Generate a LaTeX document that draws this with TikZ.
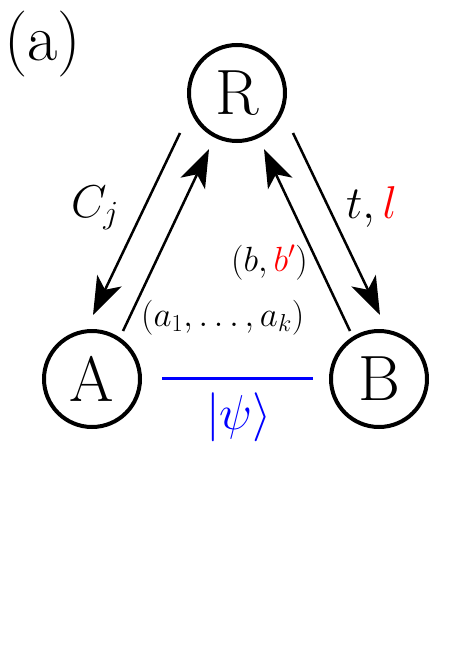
\documentclass[tikz,border=0pt]{standalone}
\usepackage{fix-cm}
\usepackage{fontspec}
\usetikzlibrary{arrows.meta}
\begin{document}
\begin{tikzpicture}[x=1pt,y=-1pt,
  party/.style={circle,draw,line width=4pt,minimum size=96pt,inner sep=0pt,font=\fontsize{64}{64}\selectfont},
  msg/.style={line width=2.5pt,-{Stealth[length=38pt,width=27pt,inset=10pt]}},
  lbl/.style={inner sep=0pt,anchor=base west,font=\fontsize{46}{46}\selectfont},
  small/.style={inner sep=0pt,anchor=base west,font=\fontsize{35}{35}\selectfont}]
\useasboundingbox (0,0) rectangle (474,663);
\node[inner sep=0pt,anchor=base west,font=\fontsize{66}{66}\selectfont] (tag) at (4,61) {(a)};
\node[party] (R) at (237,93) {R};
\node[party] (A) at (92,379) {A};
\node[party] (B) at (379,379) {B};
\coordinate (r1) at (180,133);
\coordinate (a1) at (93,315);
\coordinate (a2) at (123,331);
\coordinate (r2) at (209,149);
\coordinate (b2) at (350,331);
\coordinate (r3) at (264,149);
\coordinate (r4) at (293,133);
\coordinate (b1) at (380,315);
\draw[msg] (r1) -- (a1);
\draw[msg] (a2) -- (r2);
\draw[msg] (b2) -- (r3);
\draw[msg] (r4) -- (b1);
\coordinate (q1) at (162,378);
\coordinate (q2) at (313,378);
\draw[blue,line width=3pt] (q1) -- (q2);
\node[lbl] (cj) at (71,217) {$C_j$};
\node[lbl] (tl) at (346,218) {$t,{\color{red}l}$};
\node[small] (bb) at (231,271) {$(b,{\color{red}b'})$};
\node[small] (aa) at (141,326) {$(a_1,\ldots,a_k)$};
\node[inner sep=0pt,anchor=base west,font=\fontsize{49}{49}\selectfont,text=blue] (psi) at (206,429) {$|\psi\rangle$};
\end{tikzpicture}
\end{document}
